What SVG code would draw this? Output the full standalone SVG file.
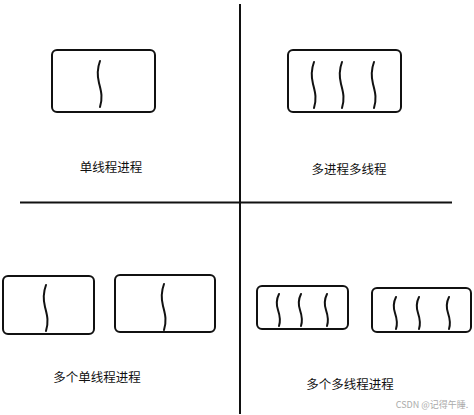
<svg xmlns="http://www.w3.org/2000/svg" width="474" height="415" viewBox="0 0 474 415">
<style>
.box{fill:none;stroke:#111;stroke-width:2}
.t{fill:none;stroke:#111;stroke-width:2;stroke-linecap:round}
.lbl{font-family:"Noto Sans CJK SC","Noto Sans",sans-serif;font-size:12.5px;fill:#111}
.wm{font-family:"Noto Sans CJK SC","Liberation Sans",sans-serif;font-size:9px;fill:#aaa}
.ax{stroke:#111;stroke-width:2}
</style>
<defs>
<path id="sq" d="M0,0 C-3,8 -3,14 -1,22 C1,30 3,36 0,46"/>
<path id="sqs" d="M0,0 C-3,6 -3,10 -1,16 C1,22 2,26 0,32"/>
</defs>
<rect width="474" height="415" fill="#fff"/>
<g id="axes">
<line class="ax" x1="240" y1="4" x2="240" y2="414"/>
<line class="ax" x1="20" y1="202.5" x2="452" y2="202.5"/>
</g>
<g id="single">
<rect class="box" x="52" y="50" width="103" height="62" rx="5"/>
<use class="t" href="#sq" x="100" y="61"/>
<text class="lbl" x="111" y="172" text-anchor="middle">单线程进程</text>
</g>
<g id="multi">
<rect class="box" x="288" y="50" width="113" height="62" rx="5"/>
<use class="t" href="#sq" x="314" y="62"/>
<use class="t" href="#sq" x="342" y="62"/>
<use class="t" href="#sq" x="374" y="62"/>
<text class="lbl" x="349" y="174" text-anchor="middle">多进程多线程</text>
</g>
<g id="multi-single">
<rect class="box" x="3" y="276" width="91" height="58" rx="5"/>
<use class="t" href="#sq" x="46" y="285" transform="translate(0,0)"/>
<rect class="box" x="115" y="275" width="100" height="57" rx="5"/>
<use class="t" href="#sq" x="164" y="284"/>
<text class="lbl" x="97" y="382" text-anchor="middle">多个单线程进程</text>
</g>
<g id="multi-multi">
<rect class="box" x="257" y="286" width="91" height="43" rx="5"/>
<use class="t" href="#sqs" x="279" y="294"/>
<use class="t" href="#sqs" x="301" y="294"/>
<use class="t" href="#sqs" x="327" y="294"/>
<rect class="box" x="372" y="288" width="99" height="44" rx="5"/>
<use class="t" href="#sqs" x="396" y="297"/>
<use class="t" href="#sqs" x="419" y="297"/>
<use class="t" href="#sqs" x="449" y="297"/>
<text class="lbl" x="350" y="389" text-anchor="middle">多个多线程进程</text>
</g>
<text class="wm" x="432" y="408" text-anchor="middle">CSDN @记得午睡.</text>
</svg>
